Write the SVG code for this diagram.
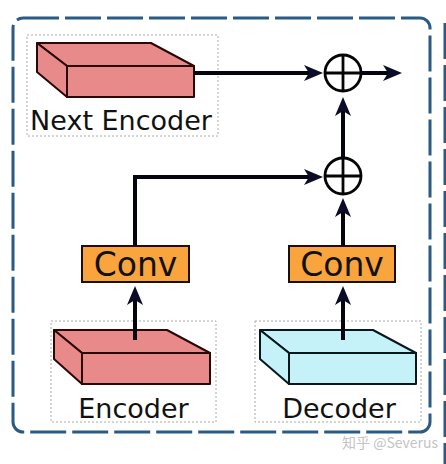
<svg xmlns="http://www.w3.org/2000/svg" width="446" height="464" viewBox="0 0 446 464">
<defs>
<marker id="ah" viewBox="0 0 19 16" refX="10" refY="8" markerWidth="19" markerHeight="16" markerUnits="userSpaceOnUse" orient="auto">
<path d="M0,0 L19,8 L0,16 L5,8 Z" fill="#0c0c28"/>
</marker>
<style>
.frame{fill:none;stroke:#2b5b84;stroke-width:3;stroke-dasharray:36 6}
.dot{fill:none;stroke:#aaaaaa;stroke-width:1;stroke-dasharray:2 2}
.enc{fill:#e8898a;stroke:#2a0808;stroke-width:2;stroke-linejoin:round}
.dec{fill:#c4f2f8;stroke:#08181c;stroke-width:2;stroke-linejoin:round}
.conv{fill:#f9a43c;stroke:#1a1008;stroke-width:2}
.lbl{font-family:"DejaVu Sans",sans-serif;font-size:27px;fill:#111;text-anchor:middle}
.clbl{font-family:"DejaVu Sans",sans-serif;font-size:33px;fill:#111;text-anchor:middle}
.wire{fill:none;stroke:#050510;stroke-width:4;marker-end:url(#ah)}
.sum{fill:#fff;stroke:#050505;stroke-width:2.8}
</style>
</defs>
<rect width="446" height="464" fill="#ffffff"/>
<rect class="frame" x="13" y="18" width="417" height="414" rx="10"/>
<line x1="445" y1="23" x2="445" y2="464" stroke="#2b5b84" stroke-width="3" stroke-dasharray="36 6"/>

<g id="next-encoder">
<rect class="dot" x="27" y="35" width="191" height="101"/>
<polygon class="enc" points="37,43 151,43 194,66 67,66"/>
<polygon class="enc" points="37,43 67,66 67,97 37,72"/>
<rect class="enc" x="67" y="66" width="127" height="31"/>
<text class="lbl" x="121" y="130">Next Encoder</text>
</g>

<g id="encoder">
<rect class="dot" x="51" y="321" width="165" height="101"/>
<polygon class="enc" points="54,330 167,330 210,353 82,353"/>
<polygon class="enc" points="54,330 82,353 82,384 54,359"/>
<rect class="enc" x="82" y="353" width="128" height="31"/>
<text class="lbl" x="133.5" y="418">Encoder</text>
</g>

<g id="decoder">
<rect class="dot" x="255" y="321" width="166" height="101"/>
<polygon class="dec" points="260,330 373,330 416,353 289,353"/>
<polygon class="dec" points="260,330 289,353 289,384 260,359"/>
<rect class="dec" x="289" y="353" width="127" height="31"/>
<text class="lbl" x="339" y="418">Decoder</text>
</g>

<g id="conv-left">
<rect class="conv" x="82" y="246" width="107" height="36"/>
<text class="clbl" x="135.5" y="276">Conv</text>
</g>

<g id="conv-right">
<rect class="conv" x="289" y="246" width="106" height="36"/>
<text class="clbl" x="342" y="276">Conv</text>
</g>

<g id="sum-top">
<circle class="sum" cx="343" cy="73" r="18"/>
<line x1="325" y1="73" x2="361" y2="73" stroke="#050505" stroke-width="2.8"/>
<line x1="343" y1="55" x2="343" y2="91" stroke="#050505" stroke-width="2.8"/>
</g>

<g id="sum-bottom">
<circle class="sum" cx="343" cy="176" r="18"/>
<line x1="325" y1="176" x2="361" y2="176" stroke="#050505" stroke-width="2.8"/>
<line x1="343" y1="158" x2="343" y2="194" stroke="#050505" stroke-width="2.8"/>
</g>

<g id="connectors">
<path class="wire" d="M194,73 H314"/>
<path class="wire" d="M361,73 H393"/>
<path class="wire" d="M343,158 V106"/>
<path class="wire" d="M343,246 V207"/>
<path class="wire" d="M135,246 V177 H314"/>
<path class="wire" d="M135,340 V295"/>
<path class="wire" d="M343,340 V295"/>
</g>

<text x="342" y="448" font-family="'Noto Sans CJK SC','Noto Sans',sans-serif" font-size="14" fill="#c4c4c4">知乎 @Severus</text>
</svg>
